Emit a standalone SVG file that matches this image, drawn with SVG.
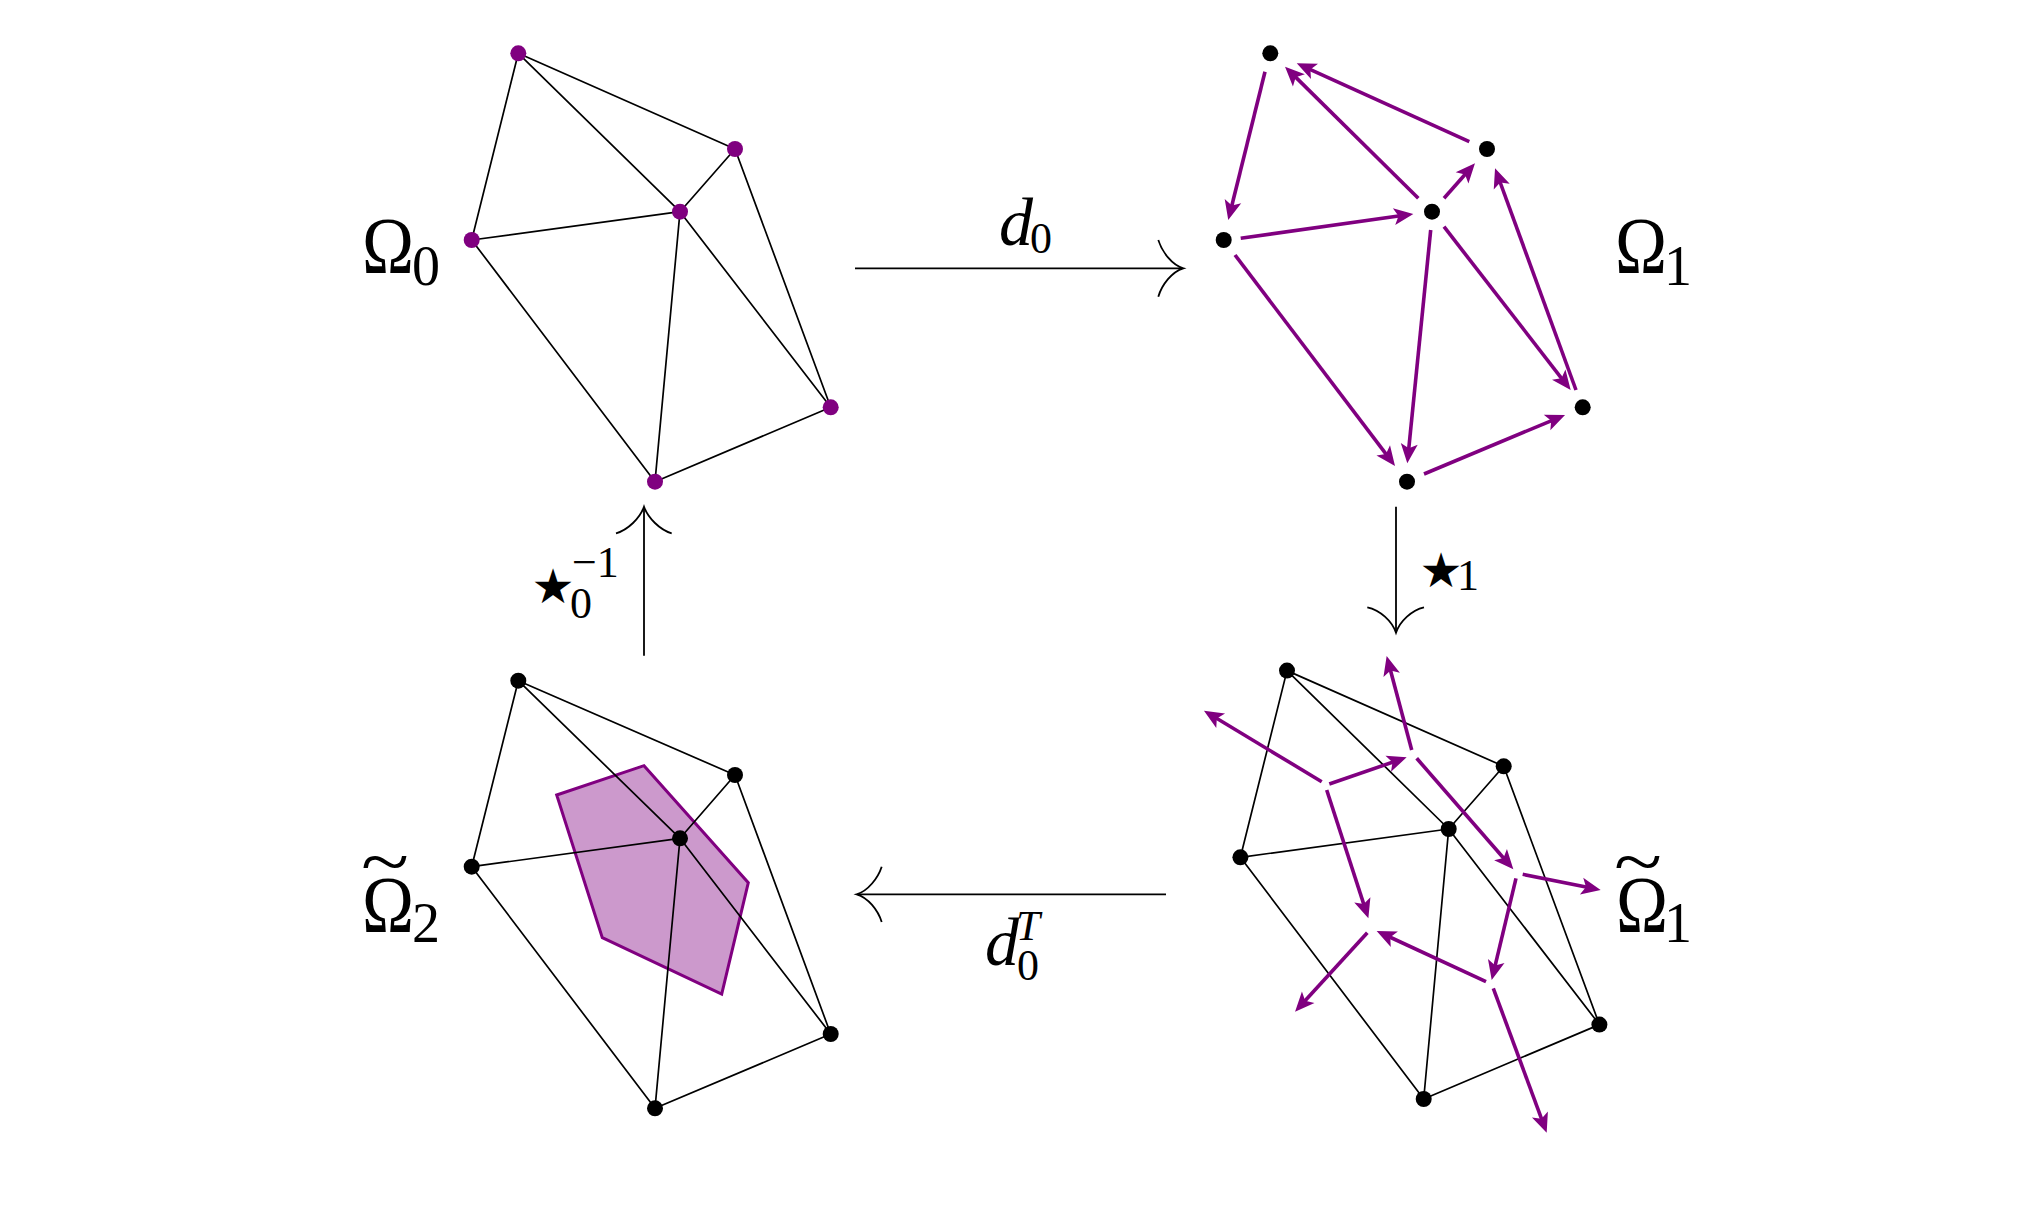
<svg xmlns="http://www.w3.org/2000/svg" width="2036" height="1224" viewBox="0 0 2036 1224">
<defs>
<style>
.e{stroke:#000;stroke-width:1.7;fill:none;stroke-linecap:round}
.n{fill:#000}
.np{fill:#800080}
.pa{stroke:#800080;stroke-width:3.6;fill:none;marker-end:url(#ah)}
.ar{stroke:#000;stroke-width:1.8;fill:none}
.lab{font-family:"Liberation Serif",serif;fill:#000}
.it{font-family:"Liberation Serif",serif;font-style:italic;fill:#000}
.st{font-family:"DejaVu Sans",sans-serif;fill:#000}
</style>
<marker id="ah" markerUnits="userSpaceOnUse" viewBox="-21 -10 22 20" refX="-6" refY="0" markerWidth="22" markerHeight="20" orient="auto">
<path d="M0,0 L-19.5,-8.5 L-15,0 L-19.5,8.5 Z" fill="#800080"/>
</marker>
</defs>
<rect width="2036" height="1224" fill="#fff"/>

<g id="omega0">
<g>
<line class="e" x1="518.3" y1="53.3" x2="471.7" y2="240"/>
<line class="e" x1="518.3" y1="53.3" x2="680" y2="211.7"/>
<line class="e" x1="518.3" y1="53.3" x2="735" y2="149"/>
<line class="e" x1="735" y1="149" x2="680" y2="211.7"/>
<line class="e" x1="735" y1="149" x2="830.7" y2="407.3"/>
<line class="e" x1="471.7" y1="240" x2="680" y2="211.7"/>
<line class="e" x1="471.7" y1="240" x2="655" y2="481.7"/>
<line class="e" x1="680" y1="211.7" x2="655" y2="481.7"/>
<line class="e" x1="680" y1="211.7" x2="830.7" y2="407.3"/>
<line class="e" x1="655" y1="481.7" x2="830.7" y2="407.3"/>
</g>
<circle class="np" cx="518.3" cy="53.3" r="8"/>
<circle class="np" cx="735" cy="149" r="8"/>
<circle class="np" cx="680" cy="211.7" r="8"/>
<circle class="np" cx="471.7" cy="240" r="8"/>
<circle class="np" cx="830.7" cy="407.3" r="8"/>
<circle class="np" cx="655" cy="481.7" r="8"/>
<text class="lab" x="362" y="273" font-size="80" textLength="52" lengthAdjust="spacingAndGlyphs">Ω</text>
<text class="lab" x="412" y="285" font-size="56">0</text>
</g>

<g id="omega1">
<g>
<line class="pa" x1="1265" y1="71.7" x2="1229.7" y2="214.2"/>
<line class="pa" x1="1469.3" y1="141.7" x2="1302.2" y2="65.8"/>
<line class="pa" x1="1418.3" y1="198.3" x2="1289.3" y2="70.9"/>
<line class="pa" x1="1444" y1="198.3" x2="1471.0" y2="167.8"/>
<line class="pa" x1="1240.7" y1="238.3" x2="1407.4" y2="214.8"/>
<line class="pa" x1="1235" y1="255" x2="1391.4" y2="461.2"/>
<line class="pa" x1="1430.7" y1="230" x2="1407.9" y2="457.3"/>
<line class="pa" x1="1444" y1="226.7" x2="1567.0" y2="385.3"/>
<line class="pa" x1="1576" y1="390" x2="1497.1" y2="174.0"/>
<line class="pa" x1="1424" y1="474" x2="1559.5" y2="417.3"/>
</g>
<circle class="n" cx="1270.3" cy="53.3" r="8"/>
<circle class="n" cx="1487" cy="149" r="8"/>
<circle class="n" cx="1432" cy="211.7" r="8"/>
<circle class="n" cx="1223.7" cy="240" r="8"/>
<circle class="n" cx="1582.7" cy="407.3" r="8"/>
<circle class="n" cx="1407" cy="481.7" r="8"/>
<text class="lab" x="1615" y="273" font-size="80" textLength="52" lengthAdjust="spacingAndGlyphs">Ω</text>
<text class="lab" x="1664" y="285" font-size="56">1</text>
</g>

<g id="omega2tilde">
<polygon points="556.7,795 644,765.7 748.3,882.7 721.7,994 602.3,937.7" fill="#cc99cc" stroke="#800080" stroke-width="3" stroke-linejoin="miter"/>
<g>
<line class="e" x1="518.3" y1="680.7" x2="471.7" y2="866.7"/>
<line class="e" x1="518.3" y1="680.7" x2="680" y2="838.3"/>
<line class="e" x1="518.3" y1="680.7" x2="735" y2="775"/>
<line class="e" x1="735" y1="775" x2="680" y2="838.3"/>
<line class="e" x1="735" y1="775" x2="830.7" y2="1034"/>
<line class="e" x1="471.7" y1="866.7" x2="680" y2="838.3"/>
<line class="e" x1="471.7" y1="866.7" x2="655" y2="1108.3"/>
<line class="e" x1="680" y1="838.3" x2="655" y2="1108.3"/>
<line class="e" x1="680" y1="838.3" x2="830.7" y2="1034"/>
<line class="e" x1="655" y1="1108.3" x2="830.7" y2="1034"/>
</g>
<circle class="n" cx="518.3" cy="680.7" r="8"/>
<circle class="n" cx="735" cy="775" r="8"/>
<circle class="n" cx="680" cy="838.3" r="8"/>
<circle class="n" cx="471.7" cy="866.7" r="8"/>
<circle class="n" cx="830.7" cy="1034" r="8"/>
<circle class="n" cx="655" cy="1108.3" r="8"/>
<text class="lab" x="361" y="0" font-size="96" textLength="48" lengthAdjust="spacingAndGlyphs" transform="translate(0,885.5) scale(1,0.75)">~</text>
<text class="lab" x="362" y="932" font-size="80" textLength="52" lengthAdjust="spacingAndGlyphs">Ω</text>
<text class="lab" x="412" y="942" font-size="56">2</text>
</g>

<g id="omega1tilde">
<g>
<line class="e" x1="1287" y1="670.6" x2="1240.4" y2="857.3"/>
<line class="e" x1="1287" y1="670.6" x2="1448.7" y2="829"/>
<line class="e" x1="1287" y1="670.6" x2="1503.7" y2="766.3"/>
<line class="e" x1="1503.7" y1="766.3" x2="1448.7" y2="829"/>
<line class="e" x1="1503.7" y1="766.3" x2="1599.4" y2="1024.6"/>
<line class="e" x1="1240.4" y1="857.3" x2="1448.7" y2="829"/>
<line class="e" x1="1240.4" y1="857.3" x2="1423.7" y2="1099"/>
<line class="e" x1="1448.7" y1="829" x2="1423.7" y2="1099"/>
<line class="e" x1="1448.7" y1="829" x2="1599.4" y2="1024.6"/>
<line class="e" x1="1423.7" y1="1099" x2="1599.4" y2="1024.6"/>
</g>
<g>
<line class="pa" x1="1321.7" y1="781.7" x2="1209.1" y2="713.8"/>
<line class="pa" x1="1329.3" y1="784" x2="1401.0" y2="759.3"/>
<line class="pa" x1="1326.7" y1="790" x2="1366.5" y2="912.6"/>
<line class="pa" x1="1411.7" y1="750" x2="1388.2" y2="661.8"/>
<line class="pa" x1="1416.7" y1="758.3" x2="1509.4" y2="864.8"/>
<line class="pa" x1="1522.7" y1="874.3" x2="1594.8" y2="888.8"/>
<line class="pa" x1="1516" y1="878.3" x2="1493.1" y2="974.2"/>
<line class="pa" x1="1486" y1="981.7" x2="1382.1" y2="933.5"/>
<line class="pa" x1="1493.3" y1="988.3" x2="1544.6" y2="1127.1"/>
<line class="pa" x1="1367.3" y1="932.7" x2="1299.1" y2="1007.3"/>
</g>
<circle class="n" cx="1287" cy="670.6" r="8"/>
<circle class="n" cx="1503.7" cy="766.3" r="8"/>
<circle class="n" cx="1448.7" cy="829" r="8"/>
<circle class="n" cx="1240.4" cy="857.3" r="8"/>
<circle class="n" cx="1599.4" cy="1024.6" r="8"/>
<circle class="n" cx="1423.7" cy="1099" r="8"/>
<text class="lab" x="1614" y="0" font-size="96" textLength="48" lengthAdjust="spacingAndGlyphs" transform="translate(0,885.5) scale(1,0.75)">~</text>
<text class="lab" x="1616" y="932" font-size="80" textLength="52" lengthAdjust="spacingAndGlyphs">Ω</text>
<text class="lab" x="1664" y="942" font-size="56">1</text>
</g>

<g id="connectors">
<g id="d0">
<line class="ar" x1="855" y1="268.3" x2="1182" y2="268.3"/>
<path class="ar" d="M1158.3,240 C1162,252 1172,265 1183.3,268.3 C1172,271.6 1162,284.6 1158.3,296.7"/>
<text class="it" x="999" y="245" font-size="68">d</text>
<text class="lab" x="1030" y="253" font-size="44">0</text>
</g>
<g id="star1">
<line class="ar" x1="1396" y1="506.7" x2="1396" y2="631.7"/>
<path class="ar" d="M1367.3,607.3 C1380,610 1392,621 1396,632.7 C1400,621 1412,610 1424,607.3"/>
<text class="st" x="1441" y="587" font-size="48" text-anchor="middle">★</text>
<text class="lab" x="1457" y="590" font-size="44">1</text>
</g>
<g id="d0T">
<line class="ar" x1="857.7" y1="894.3" x2="1166" y2="894.3"/>
<path class="ar" d="M881.7,866.7 C878,878 868,891 856.7,894.3 C868,897.6 878,910 881.7,922"/>
<text class="it" x="985" y="965" font-size="68">d</text>
<text class="it" x="1016" y="940" font-size="43">T</text>
<text class="lab" x="1017" y="980" font-size="44">0</text>
</g>
<g id="star0inv">
<line class="ar" x1="644" y1="655.7" x2="644" y2="507.7"/>
<path class="ar" d="M616,533.3 C628,530 640,518 644,506.7 C648,518 660,530 671.7,533.3"/>
<text class="st" x="553" y="603" font-size="48" text-anchor="middle">★</text>
<text class="lab" x="570" y="618" font-size="44">0</text>
<text class="lab" x="572" y="577" font-size="44">−1</text>
</g>
</g>
</svg>
